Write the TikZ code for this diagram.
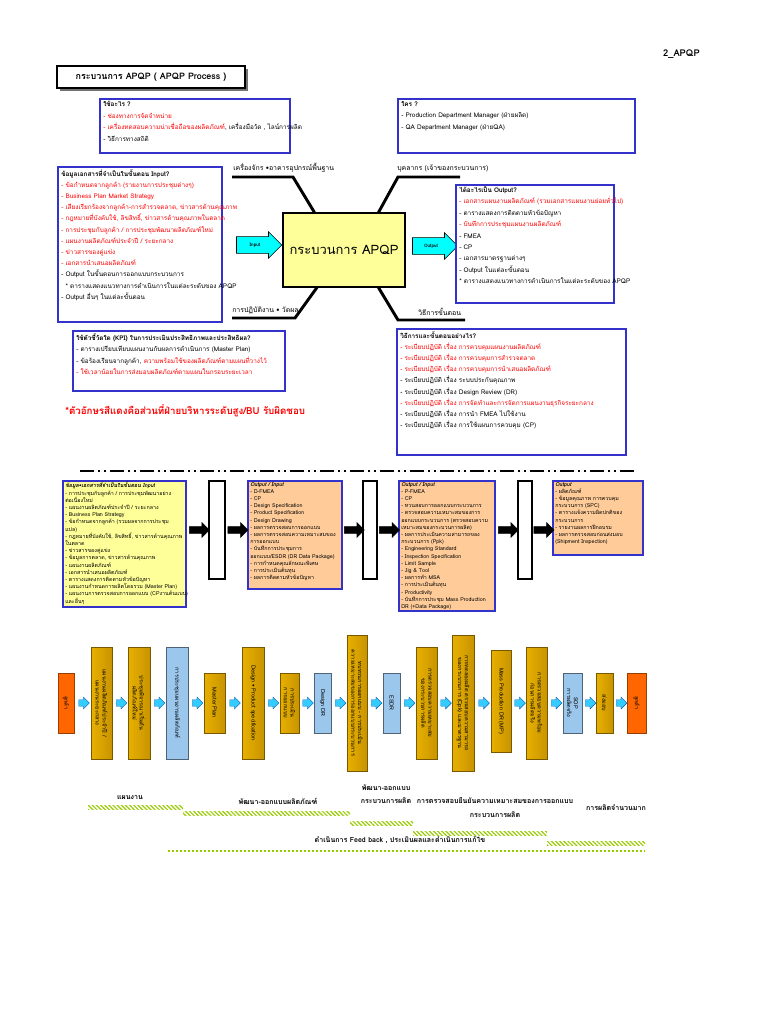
\documentclass[tikz,border=0pt]{standalone}
\usepackage{fontspec}
\newfontfamily\thaifont[Script=Thai]{Loma}
\usetikzlibrary{fit,calc,shapes.arrows,patterns.meta,shadows}
\definecolor{bbl}{HTML}{3333CC}
\definecolor{cyn}{HTML}{00FFFF}
\definecolor{lyel}{HTML}{FFFF99}
\definecolor{lor}{HTML}{FFCC99}
\definecolor{goldA}{HTML}{FFD400}
\definecolor{goldB}{HTML}{E8B000}
\definecolor{goldC}{HTML}{C89400}
\definecolor{skyA}{HTML}{9CC7EC}
\definecolor{skyB}{HTML}{F4FAFF}
\definecolor{orn}{HTML}{FF6600}
\definecolor{lgr}{HTML}{99CC00}
\definecolor{rd}{HTML}{FF0000}
\definecolor{cyb}{HTML}{33CCFF}
\newcommand\redt[1]{\textcolor{rd}{#1}}
\tikzset{
  bluebox/.style={draw=bbl, line width=1.5pt, fill=white, inner sep=0pt},
  txt/.style={font=\thaifont\fontsize{4.8}{8.4}\selectfont, align=left, inner sep=0pt, anchor=north west},
  stxt/.style={font=\thaifont\fontsize{4}{5.4}\selectfont, align=left, inner sep=0pt, anchor=north west},
  fish/.style={line width=2.2pt, black},
  fishlab/.style={font=\thaifont\fontsize{5.2}{6}\selectfont, inner sep=0pt, anchor=south west},
  cyarrow/.style={single arrow, draw=black, line width=0.4pt, fill=cyn, minimum height=34pt, minimum width=20pt, single arrow head extend=3.5pt, inner xsep=2pt, inner ysep=4pt, font=\thaifont\bfseries\fontsize{3.5}{4}\selectfont},
  blkarrow/.style={single arrow, fill=black, draw=black, minimum height=15pt, minimum width=11pt, single arrow head extend=3pt, inner sep=2.2pt},
  cyar/.style={single arrow, fill=cyb, draw=blue!50!cyan!70!black, line width=0.3pt, minimum height=8pt, minimum width=9pt, single arrow head extend=2pt, inner sep=2.2pt},
  whitebox/.style={draw=black, line width=0.9pt, fill=white, inner sep=0pt},
  goldbox/.style={draw=goldC!60!black, line width=0.5pt, left color=goldB, middle color=goldA, right color=goldC, inner sep=0pt, drop shadow={shadow xshift=1pt, shadow yshift=-1pt, fill=black!70, opacity=1}},
  skybox/.style={draw=skyA!50!black, line width=0.5pt, left color=skyA, middle color=skyB, right color=skyA, inner sep=0pt, drop shadow={shadow xshift=1pt, shadow yshift=-1pt, fill=black!70, opacity=1}},
  ornbox/.style={draw=orn!60!black, line width=0.5pt, fill=orn, inner sep=0pt, drop shadow={shadow xshift=1pt, shadow yshift=-1pt, fill=black!70, opacity=1}},
  vtext/.style={rotate=-90, font=\thaifont\fontsize{4.2}{5.2}\selectfont, align=center, inner sep=0pt},
  hatch/.style={pattern={Lines[angle=-45,distance=2.2pt,line width=0.9pt]}, pattern color=lgr},
  blab/.style={font=\thaifont\bfseries\fontsize{5.3}{6.5}\selectfont, inner sep=0pt, align=center}
}
\newcommand\flowbx[7]{%
  \node[#2, fit={(#3,#4) (#5,#6)}] (#1) {};
  \node[vtext] (#1t) at (#1.center) {#7};
}
\begin{document}
\begin{tikzpicture}[x=0.75pt,y=-0.75pt]
\useasboundingbox (0,0) rectangle (768,1024);
\fill[white] (0,0) rectangle (768,1024);

% header
\node[font=\thaifont\bfseries\fontsize{7}{8}\selectfont, anchor=east, inner sep=0pt] (pg) at (700,54) {2\_APQP};
\node[draw=black, line width=0.8pt, fill=white, inner sep=0pt, fit={(57,66) (245,88)}, drop shadow={shadow xshift=2pt, shadow yshift=-2pt, fill=black!55, opacity=1}] (title) {};
\node[font=\thaifont\bfseries\fontsize{6.7}{8}\selectfont, inner sep=0pt] (titleT) at (title.center) {กระบวนการ APQP ( APQP Process )};

% what / who
\node[bluebox, fit={(100,99) (290,153)}] (what) {};
\node[txt, font=\thaifont\fontsize{4.8}{8.7}\selectfont] (whatT) at (103,101) {\textbf{ใช้อะไร ?}\\
\redt{- ช่องทางการจัดจำหน่าย}\\
\redt{- เครื่องทดสอบความน่าเชื่อถือของผลิตภัณฑ์}, เครื่องมือวัด , ไลน์การผลิต\\
- วิธีการทางสถิติ};

\node[bluebox, fit={(398,99) (635,153)}] (who) {};
\node[txt, font=\thaifont\fontsize{4.8}{8.7}\selectfont] (whoT) at (401,101) {\textbf{ใคร ?}\\
- Production Department Manager (ฝ่ายผลิต)\\
- QA Department Manager (ฝ่ายQA)};

% input box
\node[bluebox, fit={(58,167) (222,322)}] (inb) {};
\node[txt] (inbT) at (61,169) {\textbf{ข้อมูลเอกสารที่จำเป็นในขั้นตอน Input?}\\
\redt{- ข้อกำหนดจากลูกค้า (รายงานการประชุมต่างๆ)}\\
\redt{- Business Plan Market Strategy}\\
\redt{- เสียงเรียกร้องจากลูกค้า-การสำรวจตลาด, ข่าวสารด้านคุณภาพ}\\
\redt{- กฎหมายที่บังคับใช้, ลิขสิทธิ์, ข่าวสารด้านคุณภาพในตลาด}\\
\redt{- การประชุมกับลูกค้า / การประชุมพัฒนาผลิตภัณฑ์ใหม่}\\
\redt{- แผนงานผลิตภัณฑ์ประจำปี / ระยะกลาง}\\
\redt{- ข่าวสารของคู่แข่ง}\\
\redt{- เอกสารนำเสนอผลิตภัณฑ์}\\
- Output ในขั้นตอนการออกแบบกระบวนการ\\
\ \ * ตารางแสดงแนวทางการดำเนินการในแต่ละระดับของ APQP\\
- Output อื่นๆ ในแต่ละขั้นตอน};

% center
\node[draw=black, line width=0.9pt, fill=lyel, inner sep=0pt, fit={(283,213) (405,287)}] (apqp) {};
\node[font=\thaifont\fontsize{9.7}{11}\selectfont, inner sep=0pt] (apqpT) at (apqp.center) {กระบวนการ APQP};
\node[cyarrow] (inA) at (255,245) {Input};
\node[cyarrow] (outA) at (431,246) {Output};

\coordinate (tl1) at (232,177); \coordinate (tl2) at (293,177);
\coordinate (tr1) at (460,177); \coordinate (tr2) at (398,177);
\coordinate (bl1) at (232,318); \coordinate (bl2) at (295,318);
\coordinate (br1) at (465,320); \coordinate (br2) at (398,320);
\draw[fish] (tl1) -- (tl2) -- ($(apqp.north west)!0.26!(apqp.north east)$);
\draw[fish] (tr1) -- (tr2) -- ($(apqp.north west)!0.78!(apqp.north east)$);
\draw[fish] (bl1) -- (bl2) -- ($(apqp.south west)!0.28!(apqp.south east)$);
\draw[fish] (br1) -- (br2) -- ($(apqp.south west)!0.78!(apqp.south east)$);
\node[fishlab] (ltl) at (233,173) {เครื่องจักร •อาคารอุปกรณ์พื้นฐาน};
\node[fishlab] (ltr) at (397,173) {บุคลากร (เจ้าของกระบวนการ)};
\node[fishlab] (lbl) at (232,314) {การปฏิบัติงาน • วัดผล};
\node[fishlab] (lbr) at (418,316) {วิธีการขั้นตอน};

% output box
\node[bluebox, fit={(456,185) (614,303)}] (outb) {};
\node[txt, font=\thaifont\fontsize{4.8}{8.6}\selectfont] (outbT) at (459,186) {\textbf{ได้อะไรเป็น Output?}\\
\redt{- เอกสารแผนงานผลิตภัณฑ์ (รวมเอกสารแผนงานย่อยทั่วไป)}\\
- ตารางแสดงการติดตามหัวข้อปัญหา\\
\redt{- บันทึกการประชุมแผนงานผลิตภัณฑ์}\\
- FMEA\\
- CP\\
- เอกสารมาตรฐานต่างๆ\\
- Output ในแต่ละขั้นตอน\\
* ตารางแสดงแนวทางการดำเนินการในแต่ละระดับของ APQP};

% KPI box
\node[bluebox, fit={(73,331) (285,391)}] (kpi) {};
\node[txt, font=\thaifont\fontsize{4.8}{8.7}\selectfont] (kpiT) at (76,333) {\textbf{ใช้ตัวชี้วัดใด (KPI) ในการประเมินประสิทธิภาพและประสิทธิผล?}\\
- ตารางเปรียบเทียบแผนงานกับผลการดำเนินการ (Master Plan)\\
- ข้อร้องเรียนจากลูกค้า, \redt{ความพร้อมใช้ของผลิตภัณฑ์ตามแผนที่วางไว้}\\
\redt{- ใช้เวลาน้อยในการส่งมอบผลิตภัณฑ์ตามแผนในกรอบระยะเวลา}};

\node[font=\thaifont\bfseries\fontsize{7.3}{9}\selectfont, text=rd, anchor=west, inner sep=0pt] (note) at (65,411) {*ตัวอักษรสีแดงคือส่วนที่ฝ่ายบริหารระดับสูง/BU รับผิดชอบ};

% method box
\node[bluebox, fit={(397,329) (626,455)}] (meth) {};
\node[txt] (methT) at (400,331) {\textbf{วิธีการและขั้นตอนอย่างไร?}\\
\redt{- ระเบียบปฏิบัติ เรื่อง การควบคุมแผนงานผลิตภัณฑ์}\\
\redt{- ระเบียบปฏิบัติ เรื่อง การควบคุมการสำรวจตลาด}\\
\redt{- ระเบียบปฏิบัติ เรื่อง การควบคุมการนำเสนอผลิตภัณฑ์}\\
- ระเบียบปฏิบัติ เรื่อง ระบบประกันคุณภาพ\\
- ระเบียบปฏิบัติ เรื่อง Design Review (DR)\\
\redt{- ระเบียบปฏิบัติ เรื่อง การจัดทำและการจัดการแผนงานธุรกิจระยะกลาง}\\
- ระเบียบปฏิบัติ เรื่อง การนำ FMEA ไปใช้งาน\\
- ระเบียบปฏิบัติ เรื่อง การใช้แผนการควบคุม (CP)};

% dash-dot separator
\coordinate (dl) at (80,471); \coordinate (dr) at (637,471);
\draw[line width=1.9pt, dash pattern=on 10.5pt off 3pt on 1.5pt off 3pt on 1.5pt off 3pt] (dl) -- (dr);

% middle row
\node[bluebox, fill=lyel, fit={(63,481) (186,607)}] (yb) {};
\node[whitebox, fit={(209,481) (225,579)}] (w1) {};
\node[bluebox, fill=lor, fit={(248,481) (342,589)}] (o1) {};
\node[whitebox, fit={(363,481) (377,579)}] (w2) {};
\node[bluebox, fill=lor, fit={(399,481) (495,611)}] (o2) {};
\node[whitebox, fit={(518,481) (532,579)}] (w3) {};
\node[bluebox, fill=lor, fit={(553,481) (643,555)}] (o3) {};

\node[stxt] (ybT) at (65,482) {\textbf{\textit{ข้อมูล•เอกสารที่จำเป็นในขั้นตอน Input}}\\
- การประชุมกับลูกค้า / การประชุมพัฒนาอย่าง\\
ต่อเนื่องใหม่\\
- แผนงานผลิตภัณฑ์ประจำปี / ระยะกลาง\\
- Business Plan Strategy\\
- ข้อกำหนดจากลูกค้า (รวมผลจากการประชุม\\
แปล)\\
- กฎหมายที่บังคับใช้, ลิขสิทธิ์, ข่าวสารด้านคุณภาพ\\
ในตลาด\\
- ข่าวสารของคู่แข่ง\\
- ข้อมูลการตลาด, ข่าวสารด้านคุณภาพ\\
- แผนงานผลิตภัณฑ์\\
- เอกสารนำเสนอผลิตภัณฑ์\\
- ตารางแสดงการติดตามหัวข้อปัญหา\\
- แผนงานกำหนดการผลิตโดยรวม (Master Plan)\\
- แผนงานการตรวจสอบการออกแบบ (CPงานต้นแบบ)\\
และอื่นๆ};

\node[stxt] (o1T) at (250,482) {\textbf{\textit{Output / Input}}\\
- D-FMEA\\
- CP\\
- Design Specification\\
- Product Specification\\
- Design Drawing\\
- ผลการตรวจสอบการออกแบบ\\
- ผลการตรวจสอบความเหมาะสมของ\\
การออกแบบ\\
- บันทึกการประชุมการ\\
ออกแบบ/ESDR (DR Data Package)\\
- การกำหนดคุณลักษณะพิเศษ\\
- การประเมินต้นทุน\\
- ผลการติดตามหัวข้อปัญหา};

\node[stxt] (o2T) at (401,482) {\textbf{\textit{Output / Input}}\\
- P-FMEA\\
- CP\\
- ทวนสอบการออกแบบกระบวนการ\\
- ตรวจสอบความเหมาะสมของการ\\
ออกแบบกระบวนการ (ตรวจสอบความ\\
เหมาะสมของกระบวนการผลิต)\\
- ผลการประเมินความสามารถของ\\
กระบวนการ (Ppk)\\
- Engineering Standard\\
- Inspection Specification\\
- Limit Sample\\
- Jig \& Tool\\
- ผลการทำ MSA\\
- การประเมินต้นทุน\\
- Productivity\\
- บันทึกการประชุม Mass Production\\
DR (+Data Package)};

\node[stxt] (o3T) at (555,482) {\textbf{\textit{Output}}\\
- ผลิตภัณฑ์\\
- ข้อมูลคุณภาพ การควบคุม\\
กระบวนการ (SPC)\\
- ตารางแจ้งความผิดปกติของ\\
กระบวนการ\\
- รายงานผลการฝึกอบรม\\
- ผลการตรวจสอบก่อนส่งมอบ\\
(Shipment Inspection)};

\node[blkarrow] (ba1) at ($(yb.east |- w1.west)!0.5!(w1.west)$) {};
\node[blkarrow] (ba2) at ($(w1.east)!0.5!(w1.east -| o1.west)$) {};
\node[blkarrow] (ba3) at ($(o1.east |- w2.west)!0.5!(w2.west)$) {};
\node[blkarrow] (ba4) at ($(w2.east)!0.5!(w2.east -| o2.west)$) {};
\node[blkarrow] (ba5) at ($(o2.east |- w3.west)!0.5!(w3.west)$) {};
\node[blkarrow] (ba6) at ($(w3.east)!0.5!(w3.east -| o3.west)$) {};

% bottom flow
\flowbx{b1}{ornbox}{58}{673}{74}{733}{ลูกค้า}
\flowbx{b2}{goldbox}{91}{647}{112}{759}{แผนงานผลิตภัณฑ์ประจำปี /\\แผนงานระยะกลาง}
\flowbx{b3}{goldbox}{128}{647}{150}{759}{ประชุมพิจารณาเริ่มต้น\\ผลิตภัณฑ์ใหม่}
\flowbx{b4}{skybox}{166}{647}{188}{759}{การประชุมแผนงานผลิตภัณฑ์}
\flowbx{b5}{goldbox}{204}{673}{225}{733}{Master Plan}
\flowbx{b6}{goldbox}{242}{647}{264}{759}{Design • Product specification}
\flowbx{b7}{goldbox}{280}{673}{299}{733}{การประเมิน\\การออกแบบ}
\flowbx{b8}{skybox}{314}{673}{331}{733}{Design DR}
\flowbx{b9}{goldbox}{347}{635}{367}{771}{ทบทวนการออกแบบ - การประเมิน\\ความเหมาะสมของการออกแบบกระบวนการ}
\flowbx{b10}{skybox}{383}{673}{400}{733}{ESDR}
\flowbx{b11}{goldbox}{416}{647}{437}{759}{การตรวจสอบความเหมาะสม\\ของกระบวนการผลิต}
\flowbx{b12}{goldbox}{452}{635}{474}{771}{การทดลองผลิต ตรวจสอบความสามารถ\\ของกระบวนการ (Cpk) และมาตรฐาน}
\flowbx{b13}{goldbox}{491}{650}{511}{752}{Mass Production DR (MP)}
\flowbx{b14}{goldbox}{526}{647}{547}{759}{การตรวจสอบความพร้อม\\ก่อนการผลิตจริง}
\flowbx{b15}{skybox}{563}{673}{582}{733}{SOP\\การผลิตจริง}
\flowbx{b16}{goldbox}{596}{673}{613}{733}{ส่งมอบ}
\flowbx{b17}{ornbox}{627}{673}{646}{733}{ลูกค้า}

\foreach \a/\b in {b1/b2,b2/b3,b3/b4,b4/b5,b5/b6,b6/b7,b7/b8,b8/b9,b9/b10,b10/b11,b11/b12,b12/b13,b13/b14,b14/b15,b15/b16,b16/b17}{
  \node[cyar] (ar-\a) at ($(\a.east |- b1.east)!0.5!(\b.west |- b1.east)$) {};
}

% bottom phase labels
\node[blab] (p1) at (130,798) {แผนงาน};
\node[blab] (p2) at (278,801) {พัฒนา-ออกแบบผลิตภัณฑ์};
\node[blab] (p3a) at (386,788) {พัฒนา-ออกแบบ};
\node[blab] (p3b) at (386,801) {กระบวนการผลิต};
\node[blab] (p4a) at (495,801) {การตรวจสอบยืนยันความเหมาะสมของการออกแบบ};
\node[blab] (p4b) at (495,815) {กระบวนการผลิต};
\node[blab] (p5) at (616,808) {การผลิตจำนวนมาก};
\node[blab] (p6) at (400,840) {ดำเนินการ Feed back , ประเมินผลและดำเนินการแก้ไข};

\fill[hatch] (88,805) rectangle (183,809);
\fill[hatch] (183,811) rectangle (350,815);
\fill[hatch] (350,821) rectangle (413,825);
\fill[hatch] (413,831) rectangle (547,835);
\fill[hatch] (547,841) rectangle (645,845);
\coordinate (fb1) at (168,851); \coordinate (fb2) at (645,851);
\draw[lgr, line width=1.3pt, dash pattern=on 1.3pt off 1.7pt] (fb1) -- (fb2);

\end{tikzpicture}
\end{document}
